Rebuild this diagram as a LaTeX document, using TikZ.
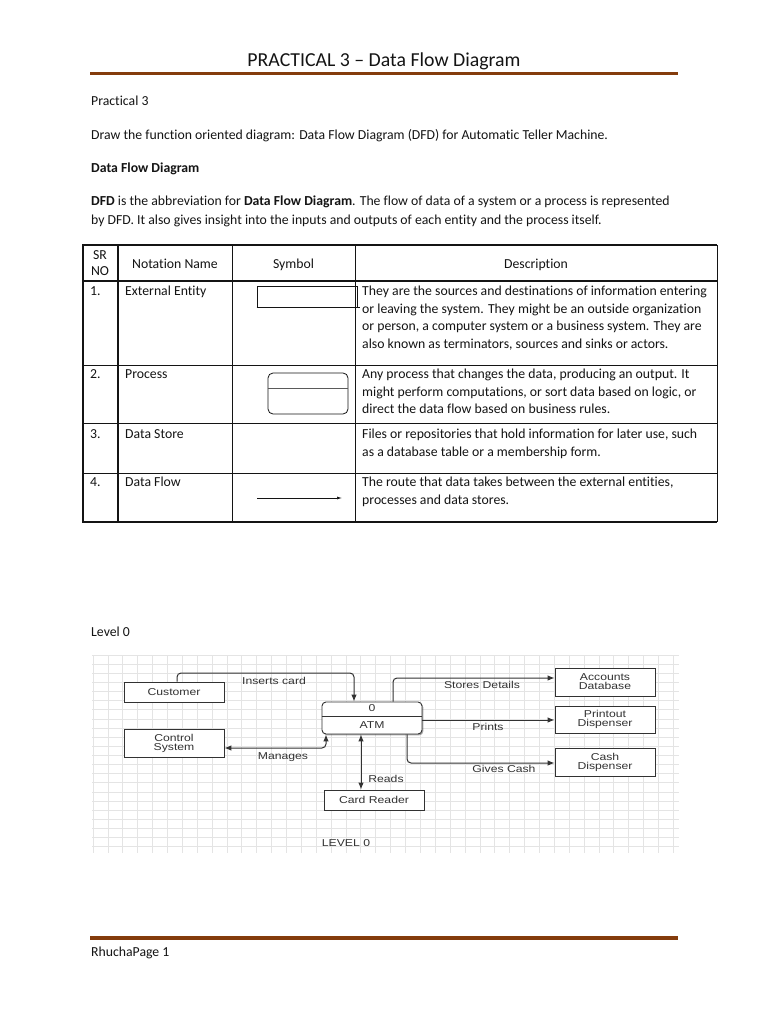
\documentclass[tikz,border=0pt]{standalone}
\usepackage{fontspec}
\setmainfont[Ligatures=NoCommon]{Carlito}
\newfontfamily\dfont[FakeStretch=1.22]{Liberation Sans}
\usetikzlibrary{arrows.meta,shadows,calc}
\definecolor{rulebrown}{RGB}{132,60,12}
\definecolor{ink}{RGB}{20,20,20}
\definecolor{dline}{RGB}{50,50,50}
\definecolor{gridc}{RGB}{228,228,228}
\begin{document}
\begin{tikzpicture}[x=1pt,y=-1pt,
  txt/.style={anchor=base west,inner sep=0pt,font=\fontsize{13.75}{17}\selectfont,text=ink},
  ctxt/.style={anchor=base,inner sep=0pt,font=\fontsize{13.75}{17}\selectfont,text=ink},
  box/.style={draw=dline,line width=0.9pt,fill=white,minimum width=100pt,inner sep=0pt,
    font=\dfont\fontsize{10}{9}\selectfont,text=dline,align=center,
    drop shadow={shadow xshift=1.3pt,shadow yshift=-1.3pt,opacity=0.35,fill=black}},
  lbl/.style={font=\dfont\fontsize{10}{10}\selectfont,inner sep=0pt,text=dline},
  flow/.style={draw=dline,line width=1pt,-{Latex[length=7pt,width=5.5pt]},rounded corners=4pt},
  flowtwo/.style={draw=dline,line width=1pt,{Latex[length=7pt,width=5.5pt]}-{Latex[length=7pt,width=5.5pt]},rounded corners=4pt},
  pagerule/.style={draw=rulebrown,line width=3.5pt},
  tthick/.style={draw=ink,line width=2pt},
  tthin/.style={draw=ink,line width=0.9pt}]
\useasboundingbox[fill=white] (0,0) rectangle (768,1024);

% ---------- header ----------
\node[anchor=base,inner sep=0pt,font=\fontsize{19.8}{22}\selectfont,text=ink] (title) at (384,66.5) {PRACTICAL 3 -- Data Flow Diagram};
\coordinate (hr1) at (90,73.5); \coordinate (hr2) at (678,73.5);
\draw[pagerule] (hr1) -- (hr2);

\node[txt] (p1) at (91,105.5) {Practical 3};
\node[txt] (p2) at (91,139.5) {Draw the function oriented diagram: Data Flow Diagram (DFD) for Automatic Teller Machine.};
\node[txt,font=\fontsize{13.75}{17}\selectfont\bfseries] (p3) at (91,172.5) {Data Flow Diagram};
\node[txt] (p4) at (91,205.5) {\textbf{DFD} is the abbreviation for \textbf{Data Flow Diagram}. The flow of data of a system or a process is represented};
\node[txt] (p5) at (91,224.5) {by DFD. It also gives insight into the inputs and outputs of each entity and the process itself.};

% ---------- table ----------
\draw[tthin] (232,245) -- (232,522);
\draw[tthin] (355,245) -- (355,522);
\draw[tthin] (717,245) -- (717,522);
\draw[draw=ink,line width=1.3pt] (83,281) -- (717,281);
\draw[tthin] (83,365) -- (717,365);
\draw[tthin] (83,423) -- (717,423);
\draw[tthin] (83,473) -- (717,473);
\draw[tthick] (82,245) -- (717,245);
\draw[tthick] (82,522) -- (717,522);
\draw[tthick] (83,244) -- (83,523);
\draw[tthick] (118,244) -- (118,523);

\node[ctxt] (sr) at (100,259.5) {SR};
\node[ctxt] (no) at (100,275.5) {NO};
\node[ctxt] (hname) at (175,268.5) {Notation Name};
\node[ctxt] (hsym) at (293.5,268.5) {Symbol};
\node[ctxt] (hdesc) at (536,268.5) {Description};

\node[txt] (n1) at (90,295.5) {1.};
\node[txt] (e1) at (125,295.5) {External Entity};
\node[txt] (d1a) at (362,295.5) {They are the sources and destinations of information entering};
\node[txt] (d1b) at (362,313) {or leaving the system. They might be an outside organization};
\node[txt] (d1c) at (362,330.5) {or person, a computer system or a business system. They are};
\node[txt] (d1d) at (362,348) {also known as terminators, sources and sinks or actors.};

\node[txt] (n2) at (90,378.5) {2.};
\node[txt] (e2) at (125,378.5) {Process};
\node[txt] (d2a) at (362,378.5) {Any process that changes the data, producing an output. It};
\node[txt] (d2b) at (362,396) {might perform computations, or sort data based on logic, or};
\node[txt] (d2c) at (362,413.5) {direct the data flow based on business rules.};

\node[txt] (n3) at (90,438.5) {3.};
\node[txt] (e3) at (125,438.5) {Data Store};
\node[txt] (d3a) at (362,438.5) {Files or repositories that hold information for later use, such};
\node[txt] (d3b) at (362,456) {as a database table or a membership form.};

\node[txt] (n4) at (90,486.5) {4.};
\node[txt] (e4) at (125,486.5) {Data Flow};
\node[txt] (d4a) at (362,486.5) {The route that data takes between the external entities,};
\node[txt] (d4b) at (362,504) {processes and data stores.};

% symbols
\node[draw=ink,line width=0.9pt,minimum width=100pt,minimum height=21pt,inner sep=0pt] (eesym) at (307,296.5) {};
\draw[draw=ink,line width=1.6pt] (eesym.south west) -- ([xshift=3pt]eesym.south east);
\node[draw=ink,line width=0.8pt,rounded corners=5pt,minimum width=80pt,minimum height=41pt,inner sep=0pt] (prsym) at (308,393.5) {};
\coordinate (prd) at (0,388);
\draw[draw=ink!70,line width=0.6pt] (prsym.west |- prd) -- (prsym.east |- prd);
\coordinate (fa) at (257,498); \coordinate (fb) at (342,498);
\draw[draw=ink,line width=0.7pt,-{Latex[length=5pt,width=3pt]}] (fa) -- (fb);

% ---------- level 0 ----------
\node[txt] (lev) at (91,636.5) {Level 0};

% grid
\foreach \i in {0,...,39} \draw[gridc,line width=0.7pt] ({93+14.88*\i},655) -- ({93+14.88*\i},853);
\foreach \j in {0,...,21} \draw[gridc,line width=0.7pt] (92,{655+9.13*\j}) -- (679,{655+9.13*\j});

% boxes
\node[box,minimum height=20pt] (cust) at (174,692) {Customer};
\node[box,minimum height=28pt] (ctrl) at (174,743) {Control\\System};
\node[box,minimum height=32pt,rounded corners=4pt] (atm) at (372,718) {};
\coordinate (atmd) at (0,716);
\draw[draw=dline,line width=0.8pt] (atm.west |- atmd) -- (atm.east |- atmd);
\node[lbl] (atmno) at (372,708) {0};
\node[lbl] (atmname) at (372,725) {ATM};
\node[box,minimum height=20pt] (card) at (374,800) {Card Reader};
\node[box,minimum height=28pt] (acc) at (605,682) {Accounts\\Database};
\node[box,minimum height=27pt] (prn) at (605,719.5) {Printout\\Dispenser};
\node[box,minimum height=28pt] (cash) at (605,762) {Cash\\Dispenser};

% connectors
\coordinate (ins) at (354,673);
\draw[flow] ([xshift=3pt]cust.north) |- (ins) -- (ins |- atm.north);
\coordinate (man) at (326,748);
\draw[flowtwo] ([yshift=-5pt]ctrl.east) -- (man) -- (man |- atm.south);
\coordinate (rd) at (361,0);
\draw[flowtwo,rounded corners=0pt] (rd |- atm.south) -- (rd |- card.north);
\coordinate (sto) at (393,678);
\draw[flow] (sto |- atm.north) |- (acc.west |- sto);
\coordinate (prt) at (0,720);
\draw[flow] (atm.east |- prt) -- (prn.west |- prt);
\coordinate (giv) at (407,763);
\draw[flow] (giv |- atm.south) |- (cash.west |- giv);

% labels
\node[lbl] (linsert) at (274,681) {Inserts card};
\node[lbl] (lmanage) at (283,757) {Manages};
\node[lbl] (lreads) at (386,779) {Reads};
\node[lbl] (lstores) at (482,685) {Stores Details};
\node[lbl] (lprints) at (488,727) {Prints};
\node[lbl] (lgives) at (504,769) {Gives Cash};
\node[lbl] (llevel) at (346,843) {LEVEL 0};

% ---------- footer ----------
\coordinate (fr1) at (90,938); \coordinate (fr2) at (678,938);
\draw[pagerule] (fr1) -- (fr2);
\node[txt] (foot) at (91,956.5) {RhuchaPage 1};
\end{tikzpicture}
\end{document}
